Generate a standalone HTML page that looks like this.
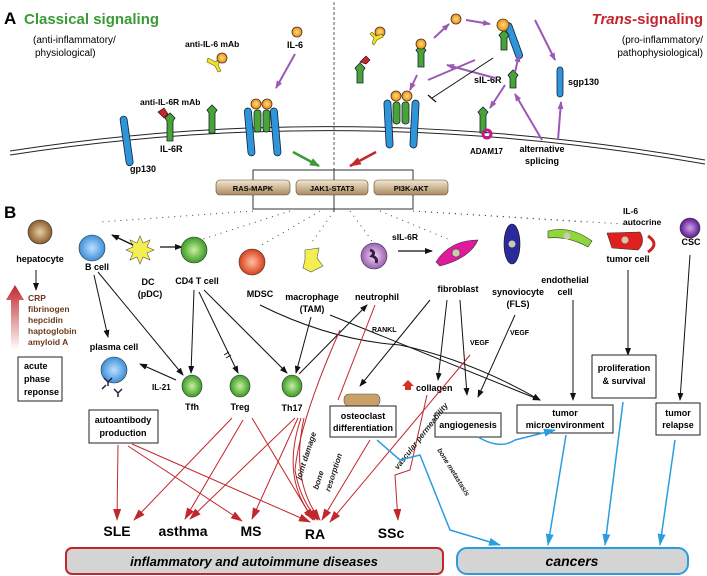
<!DOCTYPE html>
<html><head><meta charset="utf-8"><style>
html,body{margin:0;padding:0;background:#fff}
svg{display:block;font-family:"Liberation Sans",Arial,sans-serif}
.b{font-weight:bold}
</style></head><body>
<svg width="707" height="576" viewBox="0 0 707 576" xmlns="http://www.w3.org/2000/svg">
<defs>
<marker id="ak" markerWidth="8" markerHeight="8" refX="7" refY="4" orient="auto" markerUnits="userSpaceOnUse"><path d="M0,1 L8,4 L0,7z" fill="#111"/></marker>
<marker id="ar" markerWidth="12" markerHeight="10" refX="11" refY="5" orient="auto" markerUnits="userSpaceOnUse"><path d="M0,1 L12,5 L0,9z" fill="#c1272d"/></marker>
<marker id="ab" markerWidth="12" markerHeight="10" refX="11" refY="5" orient="auto" markerUnits="userSpaceOnUse"><path d="M0,1 L12,5 L0,9z" fill="#2a9de0"/></marker>
<marker id="ap" markerWidth="8" markerHeight="8" refX="7" refY="4" orient="auto" markerUnits="userSpaceOnUse"><path d="M0,1 L8,4 L0,7z" fill="#9b59b6"/></marker>
<marker id="ag" markerWidth="10" markerHeight="10" refX="9" refY="5" orient="auto" markerUnits="userSpaceOnUse"><path d="M0,1 L10,5 L0,9z" fill="#3a9a35"/></marker>
<linearGradient id="rg" x1="0" y1="1" x2="0" y2="0"><stop offset="0" stop-color="#fff"/><stop offset="1" stop-color="#c1272d"/></linearGradient>
<radialGradient id="gb"><stop offset="0" stop-color="#bfe0ff"/><stop offset="1" stop-color="#3b8fd8"/></radialGradient>
<radialGradient id="gg"><stop offset="0" stop-color="#c9f0a0"/><stop offset="1" stop-color="#3a9a25"/></radialGradient>
<radialGradient id="gbr"><stop offset="0" stop-color="#e8cfa8"/><stop offset="1" stop-color="#8a5d2c"/></radialGradient>
<radialGradient id="gr"><stop offset="0" stop-color="#ffc0a0"/><stop offset="1" stop-color="#d8401a"/></radialGradient>
<radialGradient id="gp"><stop offset="0" stop-color="#f3dcf5"/><stop offset="1" stop-color="#9a5fb0"/></radialGradient>
<radialGradient id="gv"><stop offset="0" stop-color="#d0a0f0"/><stop offset="1" stop-color="#5a1a8a"/></radialGradient>
<radialGradient id="go"><stop offset="0" stop-color="#ffe080"/><stop offset="1" stop-color="#f08a10"/></radialGradient>
<linearGradient id="bx" x1="0" y1="0" x2="0" y2="1"><stop offset="0" stop-color="#f3e7d3"/><stop offset="1" stop-color="#a98a5e"/></linearGradient>
</defs>

<!-- Panel A -->
<text x="4" y="24" class="b" font-size="17">A</text>
<text x="24" y="24" class="b" font-size="15" fill="#3a9a35">Classical signaling</text>
<text x="33" y="43" font-size="10">(anti-inflammatory/</text>
<text x="35" y="56" font-size="10">physiological)</text>
<text x="703" y="24" class="b" font-size="15" fill="#c1272d" text-anchor="end"><tspan font-style="italic">Trans</tspan>-signaling</text>
<text x="703" y="43" font-size="10" text-anchor="end">(pro-inflammatory/</text>
<text x="703" y="56" font-size="10" text-anchor="end">pathophysiological)</text>
<line x1="334" y1="2" x2="334" y2="165" stroke="#333" stroke-dasharray="3,2" stroke-width="0.8"/>

<!-- membrane -->
<path d="M10,151 Q350,98 705,160" fill="none" stroke="#222" stroke-width="1"/>
<path d="M10,155 Q350,102 705,164" fill="none" stroke="#222" stroke-width="1"/>

<!-- left receptors -->
<rect x="123" y="116" width="7" height="50" rx="3.5" fill="#2f95db" stroke="#123" stroke-width=".8" transform="rotate(-8 126 140)"/>
<text x="130" y="172" class="b" font-size="9">gp130</text>
<path d="M165,118 l5,-5 l5,5 l-2,3 l0,20 l-6,0 l0,-20z" fill="#4aa336" stroke="#123" stroke-width=".8"/>
<path d="M158,112 l6,-4 l4,6 l-4,4z" fill="#c1272d" stroke="#300" stroke-width=".6"/>
<text x="140" y="105" class="b" font-size="8.5">anti-IL-6R mAb</text>
<text x="160" y="152" class="b" font-size="9">IL-6R</text>
<path d="M207,110 l5,-5 l5,5 l-2,3 l0,20 l-6,0 l0,-20z" fill="#4aa336" stroke="#123" stroke-width=".8"/>
<!-- complex left -->
<rect x="246" y="108" width="7" height="48" rx="3.5" fill="#2f95db" stroke="#123" stroke-width=".8" transform="rotate(-5 249 130)"/>
<rect x="272" y="108" width="7" height="48" rx="3.5" fill="#2f95db" stroke="#123" stroke-width=".8" transform="rotate(-5 275 130)"/>
<rect x="254" y="110" width="7" height="22" rx="3" fill="#4aa336" stroke="#123" stroke-width=".8"/>
<rect x="263" y="110" width="7" height="22" rx="3" fill="#4aa336" stroke="#123" stroke-width=".8"/>
<circle cx="256" cy="104" r="5" fill="url(#go)" stroke="#432" stroke-width=".8"/>
<circle cx="267" cy="104" r="5" fill="url(#go)" stroke="#432" stroke-width=".8"/>
<circle cx="297" cy="32" r="5" fill="url(#go)" stroke="#432" stroke-width=".8"/>
<text x="287" y="48" class="b" font-size="9">IL-6</text>
<line x1="295" y1="54" x2="276" y2="88" stroke="#9b59b6" stroke-width="2" marker-end="url(#ap)"/>
<text x="185" y="47" class="b" font-size="8.5">anti-IL-6 mAb</text>
<path d="M208,58 l8,4 l4,-6 l2,2 l-4,7 l3,6 l-3,1 l-3,-6 l-8,-4z" fill="#f0e030" stroke="#660" stroke-width=".6"/>
<circle cx="222" cy="58" r="5" fill="url(#go)" stroke="#432" stroke-width=".8"/>
<line x1="293" y1="152" x2="319" y2="166" stroke="#3a9a35" stroke-width="2.5" marker-end="url(#ag)"/>
<line x1="376" y1="152" x2="350" y2="166" stroke="#c1272d" stroke-width="2.5" marker-end="url(#ar)"/>

<!-- right receptors -->
<rect x="385" y="100" width="7" height="48" rx="3.5" fill="#2f95db" stroke="#123" stroke-width=".8" transform="rotate(-3 388 124)"/>
<rect x="411" y="100" width="7" height="48" rx="3.5" fill="#2f95db" stroke="#123" stroke-width=".8" transform="rotate(3 414 124)"/>
<rect x="393" y="102" width="7" height="22" rx="3" fill="#4aa336" stroke="#123" stroke-width=".8"/>
<rect x="402" y="102" width="7" height="22" rx="3" fill="#4aa336" stroke="#123" stroke-width=".8"/>
<circle cx="396" cy="96" r="5" fill="url(#go)" stroke="#432" stroke-width=".8"/>
<circle cx="407" cy="96" r="5" fill="url(#go)" stroke="#432" stroke-width=".8"/>
<path d="M478,112 l5,-5 l5,5 l-2,3 l0,18 l-6,0 l0,-18z" fill="#4aa336" stroke="#123" stroke-width=".8"/>
<circle cx="487" cy="134" r="4" fill="none" stroke="#c0198a" stroke-width="3"/>
<text x="470" y="154" class="b" font-size="8">ADAM17</text>
<text x="542" y="152" class="b" font-size="9" text-anchor="middle">alternative</text>
<text x="542" y="164" class="b" font-size="9" text-anchor="middle">splicing</text>
<path d="M508,75 l5,-5 l5,5 l-2,3 l0,10 l-6,0 l0,-10z" fill="#4aa336" stroke="#123" stroke-width=".8"/>
<text x="474" y="83" class="b" font-size="9">sIL-6R</text>
<rect x="557" y="67" width="6" height="30" rx="3" fill="#2f95db" stroke="#123" stroke-width=".8"/>
<text x="568" y="85" class="b" font-size="9">sgp130</text>
<path d="M416,50 l5,-5 l5,5 l-2,3 l0,14 l-6,0 l0,-14z" fill="#4aa336" stroke="#123" stroke-width=".8"/>
<circle cx="421" cy="44" r="5" fill="url(#go)" stroke="#432" stroke-width=".8"/>
<circle cx="456" cy="19" r="5" fill="url(#go)" stroke="#432" stroke-width=".8"/>
<rect x="510" y="22" width="7" height="38" rx="3.5" fill="#2f95db" stroke="#123" stroke-width=".8" transform="rotate(-20 513 40)"/>
<path d="M499,35 l5,-5 l5,5 l-2,3 l0,12 l-6,0 l0,-12z" fill="#4aa336" stroke="#123" stroke-width=".8"/>
<circle cx="503" cy="25" r="6" fill="url(#go)" stroke="#432" stroke-width=".8"/>
<circle cx="380" cy="32" r="5" fill="url(#go)" stroke="#432" stroke-width=".8"/>
<path d="M372,32 l4,4 l6,-2 l1,3 l-6,3 l-3,5 l-2,-2 l2,-5 l-4,-4z" fill="#f0e030" stroke="#660" stroke-width=".6"/>
<path d="M355,68 l5,-5 l5,5 l-2,3 l0,12 l-6,0 l0,-12z" fill="#4aa336" stroke="#123" stroke-width=".8"/>
<path d="M360,62 l6,-6 l4,4 l-4,4z" fill="#c1272d" stroke="#300" stroke-width=".6"/>
<g stroke="#9b59b6" stroke-width="2" fill="none" marker-end="url(#ap)">
<line x1="434" y1="38" x2="449" y2="24"/>
<line x1="466" y1="20" x2="490" y2="24"/>
<line x1="417" y1="75" x2="410" y2="90"/>
<line x1="505" y1="85" x2="490" y2="108"/>
<line x1="515" y1="72" x2="519" y2="55"/>
<line x1="542" y1="140" x2="515" y2="94"/>
<line x1="558" y1="140" x2="561" y2="102"/>
<line x1="535" y1="20" x2="555" y2="60"/>
<line x1="495" y1="78" x2="447" y2="65"/>
</g>
<line x1="475" y1="60" x2="428" y2="80" stroke="#9b59b6" stroke-width="2"/>
<line x1="493" y1="58" x2="432" y2="98" stroke="#111" stroke-width="1"/>
<line x1="428" y1="95" x2="436" y2="102" stroke="#111" stroke-width="1.3"/>

<!-- pathway -->
<line x1="334" y1="168" x2="334" y2="212" stroke="#333" stroke-width="1"/>
<polyline points="253,180 253,170 413,170 413,180" fill="none" stroke="#333"/>
<polyline points="253,193 253,209 413,209 413,193" fill="none" stroke="#333"/>
<rect x="216" y="180" width="74" height="15" rx="4" fill="url(#bx)" stroke="#5a4a30" stroke-width=".6"/>
<rect x="296" y="180" width="72" height="15" rx="4" fill="url(#bx)" stroke="#5a4a30" stroke-width=".6"/>
<rect x="374" y="180" width="74" height="15" rx="4" fill="url(#bx)" stroke="#5a4a30" stroke-width=".6"/>
<text x="253" y="191" class="b" font-size="7.5" text-anchor="middle">RAS-MAPK</text>
<text x="332" y="191" class="b" font-size="7.5" text-anchor="middle">JAK1-STAT3</text>
<text x="411" y="191" class="b" font-size="7.5" text-anchor="middle">PI3K-AKT</text>

<!-- Panel B -->
<text x="4" y="218" class="b" font-size="17">B</text>
<g stroke="#444" stroke-width="1" stroke-dasharray="1,5" fill="none">
<line x1="253" y1="211" x2="100" y2="222"/>
<line x1="290" y1="211" x2="200" y2="240"/>
<line x1="320" y1="211" x2="260" y2="246"/>
<line x1="334" y1="211" x2="310" y2="245"/>
<line x1="350" y1="211" x2="375" y2="245"/>
<line x1="380" y1="211" x2="450" y2="240"/>
<line x1="413" y1="211" x2="585" y2="222"/>
<line x1="413" y1="211" x2="640" y2="225"/>
</g>
<!-- cells -->
<circle cx="40" cy="232" r="12" fill="url(#gbr)" stroke="#333" stroke-width=".6"/>
<text x="40" y="262" class="b" font-size="9" text-anchor="middle">hepatocyte</text>
<line x1="36" y1="270" x2="36" y2="290" stroke="#111" marker-end="url(#ak)"/>
<path d="M11,350 L11,300 L6,300 L15,285 L24,300 L19,300 L19,350z" fill="url(#rg)"/>
<g class="b" font-size="8.5" fill="#6b3a1a"><text x="28" y="301">CRP</text><text x="28" y="312">fibrinogen</text><text x="28" y="323">hepcidin</text><text x="28" y="334">haptoglobin</text><text x="28" y="345">amyloid A</text></g>
<rect x="18" y="357" width="44" height="44" fill="#fff" stroke="#222"/>
<g class="b" font-size="9"><text x="24" y="369">acute</text><text x="24" y="382">phase</text><text x="24" y="395">reponse</text></g>

<circle cx="92" cy="248" r="13" fill="url(#gb)" stroke="#333" stroke-width=".6"/>
<text x="97" y="270" class="b" font-size="9" text-anchor="middle">B cell</text>
<path d="M140,236 l3,7 l7,-3 l-3,7 l7,3 l-7,3 l3,7 l-7,-3 l-3,7 l-3,-7 l-7,3 l3,-7 l-7,-3 l7,-3 l-3,-7 l7,3z" fill="#f5ee50" stroke="#555" stroke-width=".6"/>
<text x="148" y="285" class="b" font-size="9" text-anchor="middle">DC</text>
<text x="150" y="297" class="b" font-size="9" text-anchor="middle">(pDC)</text>
<line x1="133" y1="245" x2="112" y2="235" stroke="#111" stroke-width="1.3" marker-end="url(#ak)"/>
<line x1="160" y1="247" x2="182" y2="247" stroke="#111" stroke-width="1.3" marker-end="url(#ak)"/>
<circle cx="194" cy="250" r="13" fill="url(#gg)" stroke="#333" stroke-width=".6"/>
<text x="197" y="284" class="b" font-size="9" text-anchor="middle">CD4 T cell</text>
<circle cx="252" cy="262" r="13" fill="url(#gr)" stroke="#333" stroke-width=".6"/>
<text x="260" y="297" class="b" font-size="9" text-anchor="middle">MDSC</text>
<path d="M305,250 l14,-2 l-2,10 l6,8 l-12,6 l-8,-4 l2,-8z" fill="#f5ee50" stroke="#555" stroke-width=".6"/>
<text x="312" y="300" class="b" font-size="9" text-anchor="middle">macrophage</text>
<text x="312" y="312" class="b" font-size="9" text-anchor="middle">(TAM)</text>
<circle cx="374" cy="256" r="13" fill="url(#gp)" stroke="#333" stroke-width=".6"/>
<path d="M370,250 q6,2 2,6 q6,2 4,7" fill="none" stroke="#3a1a4a" stroke-width="3"/>
<text x="377" y="300" class="b" font-size="9" text-anchor="middle">neutrophil</text>
<text x="392" y="240" class="b" font-size="8.5">sIL-6R</text>
<line x1="398" y1="251" x2="432" y2="251" stroke="#111" stroke-width="1.2" marker-end="url(#ak)"/>
<path d="M436,262 Q450,240 478,240 Q470,258 440,266z" fill="#e01a9c" stroke="#333" stroke-width=".6"/>
<circle cx="456" cy="253" r="4" fill="#cca" stroke="#333" stroke-width=".5"/>
<text x="458" y="292" class="b" font-size="9" text-anchor="middle">fibroblast</text>
<ellipse cx="512" cy="244" rx="8" ry="20" fill="#2a2a9a" stroke="#111" stroke-width=".6"/>
<circle cx="512" cy="244" r="3.5" fill="#cca"/>
<text x="518" y="295" class="b" font-size="9" text-anchor="middle">synoviocyte</text>
<text x="518" y="307" class="b" font-size="9" text-anchor="middle">(FLS)</text>
<path d="M548,231 Q570,225 592,241 L588,247 Q568,236 548,238z" fill="#8fd63a" stroke="#333" stroke-width=".6"/>
<circle cx="567" cy="236" r="3.5" fill="#cca"/>
<text x="565" y="283" class="b" font-size="9" text-anchor="middle">endothelial</text>
<text x="565" y="295" class="b" font-size="9" text-anchor="middle">cell</text>
<text x="623" y="214" class="b" font-size="8.5">IL-6</text>
<text x="623" y="225" class="b" font-size="8.5">autocrine</text>
<path d="M607,233 L640,232 Q646,242 638,250 L612,248z" fill="#e02020" stroke="#333" stroke-width=".6"/>
<circle cx="625" cy="240" r="3.5" fill="#cca"/>
<path d="M648,236 Q660,244 648,252" fill="none" stroke="#d02020" stroke-width="3"/>
<text x="628" y="262" class="b" font-size="9" text-anchor="middle">tumor cell</text>
<circle cx="690" cy="228" r="10" fill="url(#gv)" stroke="#333" stroke-width=".6"/>
<text x="691" y="245" class="b" font-size="9" text-anchor="middle">CSC</text>

<!-- lower cells -->
<text x="114" y="350" class="b" font-size="9" text-anchor="middle">plasma cell</text>
<circle cx="114" cy="370" r="13" fill="url(#gb)" stroke="#333" stroke-width=".6"/>
<g fill="none" stroke="#224" stroke-width="1.5"><path d="M104,378 l4,4 l4,-4 M108,382 v4"/><path d="M114,389 l4,4 l4,-4 M118,393 v4"/><path d="M106,385 l-4,4"/></g>
<text x="152" y="390" class="b" font-size="8">IL-21</text>
<line x1="176" y1="380" x2="140" y2="364" stroke="#111" stroke-width="1.2" marker-end="url(#ak)"/>
<ellipse cx="192" cy="386" rx="10" ry="11" fill="url(#gg)" stroke="#333" stroke-width=".6"/>
<text x="192" y="410" class="b" font-size="9" text-anchor="middle">Tfh</text>
<ellipse cx="240" cy="386" rx="10" ry="11" fill="url(#gg)" stroke="#333" stroke-width=".6"/>
<text x="240" y="410" class="b" font-size="9" text-anchor="middle">Treg</text>
<ellipse cx="292" cy="386" rx="10" ry="11" fill="url(#gg)" stroke="#333" stroke-width=".6"/>
<text x="292" y="411" class="b" font-size="9" text-anchor="middle">Th17</text>

<!-- black arrows -->
<g stroke="#111" stroke-width="1" fill="none" marker-end="url(#ak)">
<line x1="94" y1="275" x2="108" y2="337"/>
<line x1="98" y1="272" x2="183" y2="375"/>
<line x1="194" y1="290" x2="191" y2="373"/>
<line x1="199" y1="292" x2="238" y2="373"/>
<line x1="204" y1="290" x2="287" y2="373"/>
<line x1="311" y1="317" x2="296" y2="373"/>
<line x1="299" y1="374" x2="367" y2="305"/>
<line x1="430" y1="300" x2="360" y2="386"/>
<line x1="447" y1="300" x2="438" y2="380"/>
<line x1="460" y1="300" x2="467" y2="395"/>
<line x1="515" y1="315" x2="478" y2="397"/>
<line x1="573" y1="300" x2="573" y2="400"/>
<path d="M260,305 Q330,340 400,345 Q470,360 540,400"/>
<line x1="330" y1="315" x2="540" y2="400"/>
<line x1="628" y1="270" x2="628" y2="355"/>
<line x1="690" y1="255" x2="680" y2="400"/>
</g>
<line x1="224" y1="355" x2="229" y2="352" stroke="#111"/><line x1="226" y1="358" x2="231" y2="355" stroke="#111"/>
<g class="b" font-size="7"><text x="372" y="332">RANKL</text><text x="470" y="345">VEGF</text><text x="510" y="335">VEGF</text></g>
<line x1="375" y1="305" x2="338" y2="400" stroke="#c1272d" stroke-width="1"/>

<!-- boxes -->
<rect x="344" y="394" width="36" height="12" rx="5" fill="#c9a06a" stroke="#554" stroke-width=".6"/>
<path d="M405,390 h6 v-4 h3 l-6,-6 l-6,6 h3z" fill="#d83020"/>
<text x="416" y="391" class="b" font-size="9">collagen</text>
<rect x="89" y="410" width="69" height="33" fill="#fff" stroke="#222"/>
<text x="123" y="423" class="b" font-size="9" text-anchor="middle">autoantibody</text>
<text x="123" y="436" class="b" font-size="9" text-anchor="middle">production</text>
<rect x="330" y="406" width="66" height="31" fill="#fff" stroke="#222"/>
<text x="363" y="419" class="b" font-size="9" text-anchor="middle">osteoclast</text>
<text x="363" y="431" class="b" font-size="9" text-anchor="middle">differentiation</text>
<rect x="435" y="413" width="66" height="24" fill="#fff" stroke="#222"/>
<text x="468" y="428" class="b" font-size="9" text-anchor="middle">angiogenesis</text>
<rect x="517" y="405" width="96" height="28" fill="#fff" stroke="#222"/>
<text x="565" y="416" class="b" font-size="9" text-anchor="middle">tumor</text>
<text x="565" y="428" class="b" font-size="9" text-anchor="middle">microenvironment</text>
<rect x="592" y="355" width="64" height="43" fill="#fff" stroke="#222"/>
<text x="624" y="371" class="b" font-size="9" text-anchor="middle">proliferation</text>
<text x="624" y="384" class="b" font-size="9" text-anchor="middle">&amp; survival</text>
<rect x="656" y="403" width="44" height="32" fill="#fff" stroke="#222"/>
<text x="678" y="416" class="b" font-size="9" text-anchor="middle">tumor</text>
<text x="678" y="428" class="b" font-size="9" text-anchor="middle">relapse</text>

<!-- red arrows -->
<g stroke="#c1272d" stroke-width="1" fill="none" marker-end="url(#ar)">
<line x1="118" y1="445" x2="117" y2="520"/>
<line x1="128" y1="446" x2="242" y2="521"/>
<line x1="132" y1="444" x2="310" y2="522"/>
<line x1="232" y1="418" x2="134" y2="520"/>
<line x1="243" y1="420" x2="185" y2="519"/>
<line x1="252" y1="418" x2="313" y2="520"/>
<line x1="295" y1="418" x2="190" y2="519"/>
<line x1="298" y1="418" x2="252" y2="519"/>
<path d="M301,418 Q280,480 315,520"/>
<path d="M304,418 Q290,480 320,520"/>
<path d="M340,330 Q300,420 295,470 Q300,500 318,520"/>
<line x1="370" y1="440" x2="322" y2="520"/>
<line x1="470" y1="355" x2="330" y2="522"/>
<path d="M427,395 L410,470 L395,475 L398,520"/>
</g>
<g class="b" font-style="italic" font-size="8" fill="#222">
<text transform="translate(301,480) rotate(-72)">joint damage</text>
<text transform="translate(318,490) rotate(-72)">bone</text>
<text transform="translate(330,492) rotate(-72)">resorption</text>
<text transform="translate(398,470) rotate(-52)">vascular permeability</text>
<text transform="translate(437,450) rotate(58)" font-size="7">bone metastasis</text>
</g>
<!-- blue arrows -->
<g stroke="#2a9de0" stroke-width="1.5" fill="none" marker-end="url(#ab)">
<path d="M377,440 L400,460 L420,455 L450,530 L500,545"/>
<path d="M478,437 Q500,450 515,440 L555,430"/>
<line x1="566" y1="435" x2="548" y2="545"/>
<line x1="623" y1="402" x2="605" y2="545"/>
<line x1="675" y1="440" x2="660" y2="545"/>
</g>

<g class="b" font-size="14" text-anchor="middle">
<text x="117" y="536">SLE</text><text x="183" y="536">asthma</text><text x="251" y="536">MS</text><text x="315" y="539">RA</text><text x="391" y="538">SSc</text>
</g>
<rect x="66" y="548" width="377" height="26" rx="6" fill="#d4d4d4" stroke="#c1272d" stroke-width="2"/>
<text x="254" y="566" class="b" font-style="italic" font-size="13" text-anchor="middle">inflammatory and autoimmune diseases</text>
<rect x="457" y="548" width="231" height="26" rx="10" fill="#d4d4d4" stroke="#2a9de0" stroke-width="2"/>
<text x="572" y="566" class="b" font-style="italic" font-size="14" text-anchor="middle">cancers</text>
</svg>
</body></html>
